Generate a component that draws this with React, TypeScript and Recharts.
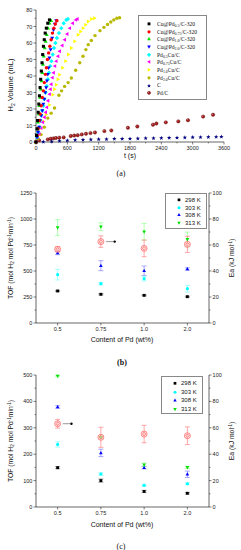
import React from 'react';
import { ScatterChart, Scatter, XAxis, YAxis, ErrorBar, Legend, ReferenceLine, ReferenceDot } from 'recharts';

// ---------- panel (a): H2 volume vs time ----------
const tCuPd05 = [0, 10, 20, 30, 42, 54, 66, 78, 90, 102, 115, 128, 142, 158, 176, 198, 225, 258];
const vCuPd05 = [0, 4, 8, 13, 18, 23, 28, 33, 38, 43, 48, 53, 58, 62, 66, 69, 72, 74];
const tCuPd075 = [0, 20, 40, 60, 80, 100, 120, 140, 160, 180, 200, 220, 242, 265, 290, 315, 342, 370, 400];
const vCuPd075 = [0, 4, 8, 13, 17, 22, 27, 31, 36, 41, 45, 50, 54, 58, 62, 66, 69, 71.5, 73.5];
const tCuPd10 = [0, 12, 24, 36, 50, 64, 78, 92, 106, 120, 134, 150, 168, 186, 206, 230, 258, 290];
const vCuPd10 = [0, 4, 8, 12, 17, 22, 27, 32, 37, 42, 47, 52, 57, 61, 65, 69, 72, 73.5];
const tCuPd20 = [0, 20, 40, 60, 80, 100, 120, 140, 160, 178, 194, 210, 226, 242, 258, 280, 310, 335, 360, 387];
const vCuPd20 = [0, 3, 6, 9, 13, 16, 19, 23, 26, 30, 33, 37, 41, 45, 51, 56, 63, 68, 71.5, 73.5];
const tPd05Cu = [0, 20, 40, 60, 80, 100, 120, 140, 160, 183, 206, 228, 250, 272, 295, 320, 345, 372, 400, 440, 484, 530, 580, 610];
const vPd05Cu = [0, 3, 6, 9, 13, 16, 19, 22, 26, 30, 34, 38, 42, 46, 49, 53, 57, 60, 63, 66, 69, 72, 74, 74.5];
const tPd075Cu = [0, 30, 60, 97, 130, 161, 185, 206, 230, 258, 275, 290, 312, 335, 360, 387, 420, 452, 500, 548, 595, 645, 700, 761, 790];
const vPd075Cu = [0, 3, 5, 8.5, 12, 15, 18, 21, 25, 29, 32, 35, 39, 42, 46, 49, 52, 55, 58.5, 62, 65.5, 69, 72, 74, 74.5];
const tPd10Cu = [0, 50, 97, 145, 194, 260, 323, 355, 387, 420, 452, 510, 568, 620, 677, 740, 806, 855, 903, 950, 1000, 1064, 1120];
const vPd10Cu = [0, 4, 8.5, 12.5, 16.6, 22.5, 28.7, 32, 34.7, 38, 40.8, 45, 49, 53, 57, 61, 65, 67, 69, 71, 73, 74.5, 75];
const tPd20Cu = [0, 40, 97, 160, 226, 290, 355, 438, 490, 548, 615, 677, 760, 838, 900, 955, 1000, 1060, 1130, 1225, 1300, 1370, 1432, 1490, 1548, 1600];
const vPd20Cu = [0, 2, 4.5, 9, 14.5, 17.5, 20.6, 28.3, 31, 33.7, 36, 38.8, 43.5, 48, 52, 56, 59, 61.5, 64.5, 67.5, 69.5, 71.2, 72.7, 74, 75, 75.3];
const tC = [140, 300, 450, 600, 750, 900, 1050, 1200, 1350, 1500, 1650, 1800, 1950, 2100, 2250, 2400, 2550, 2700, 2850, 3000, 3150, 3300, 3450, 3550];
const vC = [0.1, 0.3, 0.6, 0.9, 1.2, 1.3, 1.5, 1.6, 1.7, 1.9, 1.9, 2.0, 2.1, 2.3, 2.3, 2.4, 2.5, 2.6, 2.7, 2.8, 2.9, 3.0, 3.1, 3.2];
const tPdC = [60, 225, 280, 332, 380, 445, 530, 665, 730, 797, 876, 957, 1043, 1129, 1309, 1442, 1760, 1940, 2240, 2305, 2485, 2725, 2910, 3200, 3390];
const vPdC = [1.0, 1.6, 2.0, 2.2, 2.4, 2.6, 2.8, 3.6, 3.9, 4.1, 4.6, 5.0, 5.4, 5.8, 6.6, 7.0, 8.6, 9.4, 10.5, 11.2, 11.9, 12.5, 13.2, 15.4, 16.5];

const xTicksA = [0, 600, 1200, 1800, 2400, 3000, 3600];
const xMinorA = [300, 900, 1500, 2100, 2700, 3300];
const yTicksA = [0, 10, 20, 30, 40, 50, 60, 70, 80];
const yMinorA = [5, 15, 25, 35, 45, 55, 65, 75];

// ---------- panels (b) and (c): TOF and Ea vs Pd content ----------
const catsPd = ['0.5', '0.75', '1.0', '2.0'];

const tofB298 = [308, 276, 266, 253];
const errB298 = [6, 6, 5, 5];
const tofB303 = [465, 378, 426, 330];
const errB303 = [51, 12, 22, 32];
const tofB308 = [673, 551, 503, 519];
const errB308 = [16, 48, 45, 12];
const tofB313 = [917, 926, 878, 804];
const errB313 = [77, 38, 80, 70];
const eaB = [56.7, 62.6, 57.4, 60.5];
const errEaB = [2, 4.4, 6.4, 6.2];

const tofC298 = [149, 100, 59, 52];
const errC298 = [4, 6, 4, 3];
const tofC303 = [237, 125, 82, 88];
const errC303 = [10, 5, 4, 4];
const tofC308 = [379, 205, 149, 124];
const errC308 = [5, 14, 5, 12];
const tofC313 = [496, 264, 160, 150];
const errC313 = [3, 5, 6, 4];
const eaC = [63.1, 52.8, 55.3, 54];
const errEaC = [3.3, 7.6, 6.6, 6.7];

const yTicksB = [0, 250, 500, 750, 1000, 1250];
const yMinorB = [125, 375, 625, 875, 1125];
const yTicksC = [0, 100, 200, 300, 400, 500];
const yMinorC = [50, 150, 250, 350, 450];
const eaTicks = [0, 20, 40, 60, 80, 100];
const eaMinor = [10, 30, 50, 70, 90];
const xTicksPd = [0.5, 1.5, 2.5, 3.5];

const FONT = '"Liberation Sans", Arial, sans-serif';
const SERIF = '"Liberation Serif", "Times New Roman", serif';

type Kind = 'square' | 'circle' | 'up' | 'down' | 'left' | 'right' | 'diamond' | 'star' | 'ball' | 'ring';

const pts = (arr: number[][], x: number, y: number, s: number) =>
  arr.map(([a, b]) => `${x + a * s},${y + b * s}`).join(' ');

const starPts = (x: number, y: number, s: number) => {
  const out: string[] = [];
  for (let i = 0; i < 10; i++) {
    const r = i % 2 === 0 ? s * 1.35 : s * 0.55;
    const a = -Math.PI / 2 + (i * Math.PI) / 5;
    out.push(`${x + r * Math.cos(a)},${y + r * Math.sin(a)}`);
  }
  return out.join(' ');
};

const Marker = ({ kind, x, y, s, color }: { kind: Kind; x: number; y: number; s: number; color: string }) => {
  switch (kind) {
    case 'square':
      return <rect x={x - s * 0.9} y={y - s * 0.9} width={s * 1.8} height={s * 1.8} fill={color} />;
    case 'circle':
      return <circle cx={x} cy={y} r={s} fill={color} />;
    case 'ball':
      return (
        <g>
          <circle cx={x} cy={y} r={s} fill={color} stroke="#5a0808" strokeWidth={0.4} />
          <circle cx={x - s * 0.3} cy={y - s * 0.3} r={s * 0.35} fill="#d88080" />
        </g>
      );
    case 'up':
      return <polygon points={pts([[0, -1.25], [-1.15, 0.8], [1.15, 0.8]], x, y, s)} fill={color} />;
    case 'down':
      return <polygon points={pts([[0, 1.25], [-1.15, -0.8], [1.15, -0.8]], x, y, s)} fill={color} />;
    case 'left':
      return <polygon points={pts([[-1.25, 0], [0.8, -1.15], [0.8, 1.15]], x, y, s)} fill={color} />;
    case 'right':
      return <polygon points={pts([[1.25, 0], [-0.8, -1.15], [-0.8, 1.15]], x, y, s)} fill={color} />;
    case 'diamond':
      return <polygon points={pts([[0, -1.3], [1.3, 0], [0, 1.3], [-1.3, 0]], x, y, s)} fill={color} />;
    case 'star':
      return <polygon points={starPts(x, y, s)} fill={color} />;
    case 'ring':
      return (
        <g stroke={color} strokeWidth={0.7}>
          <circle cx={x} cy={y} r={s} fill="#ffd6d6" fillOpacity={0.6} />
          <path d={`M${x - s * 0.6},${y}L${x},${y - s * 0.6}L${x + s * 0.6},${y}L${x},${y + s * 0.6}Z`} fill="none" />
        </g>
      );
  }
  return null;
};

const shapeOf = (kind: Kind, color: string, s: number) => (p: any) =>
  <Marker kind={kind} x={p.cx} y={p.cy} s={s} color={color} />;

// ticks drawn by hand so minor marks can sit between labelled ones
const bottomTick = (majors: number[], fmt: (v: number) => string) => (p: any) => {
  const v = p.payload.value;
  const major = majors.includes(v);
  return (
    <g>
      <line x1={p.x} x2={p.x} y1={p.y} y2={p.y + (major ? 2.5 : 1.4)} stroke="#000" strokeWidth={0.5} />
      {major && (
        <text x={p.x} y={p.y + 8} textAnchor="middle" fontSize={5.5} fontFamily={FONT} fill="#222">
          {fmt(v)}
        </text>
      )}
    </g>
  );
};

const sideTick = (majors: number[], side: 'left' | 'right') => (p: any) => {
  const v = p.payload.value;
  const major = majors.includes(v);
  const dir = side === 'left' ? -1 : 1;
  return (
    <g>
      <line x1={p.x} x2={p.x + dir * (major ? 2.5 : 1.4)} y1={p.y} y2={p.y} stroke="#000" strokeWidth={0.5} />
      {major && (
        <text x={p.x + dir * 3.6} y={p.y + 2} textAnchor={side === 'left' ? 'end' : 'start'} fontSize={5.5} fontFamily={FONT} fill="#222">
          {v}
        </text>
      )}
    </g>
  );
};

const AXIS = { stroke: '#000', strokeWidth: 0.6 };

const seriesA: { key: string; label: string[]; t: number[]; v: number[]; color: string; kind: Kind }[] = [
  { key: 'a1', label: ['Cu@Pd', '0.5', '/C-320'], t: tCuPd05, v: vCuPd05, color: '#000000', kind: 'square' },
  { key: 'a2', label: ['Cu@Pd', '0.75', '/C-320'], t: tCuPd075, v: vCuPd075, color: '#ff0000', kind: 'circle' },
  { key: 'a3', label: ['Cu@Pd', '1.0', '/C-320'], t: tCuPd10, v: vCuPd10, color: '#00e000', kind: 'up' },
  { key: 'a4', label: ['Cu@Pd', '2.0', '/C-320'], t: tCuPd20, v: vCuPd20, color: '#0000ff', kind: 'down' },
  { key: 'a5', label: ['Pd', '0.5', 'Cu/C'], t: tPd05Cu, v: vPd05Cu, color: '#00ffff', kind: 'diamond' },
  { key: 'a6', label: ['Pd', '0.75', 'Cu/C'], t: tPd075Cu, v: vPd075Cu, color: '#ff00ff', kind: 'left' },
  { key: 'a7', label: ['Pd', '1.0', 'Cu/C'], t: tPd10Cu, v: vPd10Cu, color: '#ffff00', kind: 'right' },
  { key: 'a8', label: ['Pd', '2.0', 'Cu/C'], t: tPd20Cu, v: vPd20Cu, color: '#b8b800', kind: 'circle' },
  { key: 'a9', label: ['C', '', ''], t: tC, v: vC, color: '#000080', kind: 'star' },
  { key: 'a10', label: ['Pd/C', '', ''], t: tPdC, v: vPdC, color: '#a01818', kind: 'ball' },
];

const LegendA = () => (
  <div style={{ border: '0.6px solid #888', background: '#fff', width: 69, height: 85, boxSizing: 'border-box', paddingTop: 4, fontFamily: SERIF, fontSize: 5.6, color: '#111' }}>
    {seriesA.map((s) => (
      <div key={s.key} style={{ display: 'flex', alignItems: 'center', height: 7.7 }}>
        <svg width={18} height={7.7} style={{ flex: 'none' }}>
          <Marker kind={s.kind} x={10} y={3.85} s={1.6} color={s.color} />
        </svg>
        <span style={{ whiteSpace: 'nowrap' }}>
          {s.label[0]}
          {s.label[1] && <sub style={{ fontSize: '0.7em', verticalAlign: '-0.3em', lineHeight: 0 }}>{s.label[1]}</sub>}
          {s.label[2]}
        </span>
      </div>
    ))}
  </div>
);

const tempSeries: { name: string; color: string; errColor: string; kind: Kind }[] = [
  { name: '298 K', color: '#000000', errColor: '#606060', kind: 'square' },
  { name: '303 K', color: '#00ffff', errColor: '#70ffff', kind: 'circle' },
  { name: '308 K', color: '#0000ff', errColor: '#7070ff', kind: 'up' },
  { name: '313 K', color: '#00e000', errColor: '#80ff80', kind: 'down' },
];

const LegendT = ({ w, h, row }: { w: number; h: number; row: number }) => (
  <div style={{ border: '0.6px solid #888', background: '#fff', width: w, height: h, boxSizing: 'border-box', paddingTop: 2, fontFamily: FONT, fontSize: 6, color: '#111' }}>
    {tempSeries.map((s) => (
      <div key={s.name} style={{ display: 'flex', alignItems: 'center', height: row }}>
        <svg width={19} height={row} style={{ flex: 'none' }}>
          <Marker kind={s.kind} x={13} y={row / 2} s={1.5} color={s.color} />
        </svg>
        <span style={{ whiteSpace: 'nowrap' }}>{s.name}</span>
      </div>
    ))}
  </div>
);

const toPts = (vals: number[], errs: number[]) => vals.map((y, i) => ({ x: i + 0.5, y, e: errs[i] }));

const PanelTOF = ({ top, height, yMax, yTicks, yMinor, tofs, errs, ea, eaErr, arrowAt, legendBox }: any) => {
  const arrowY = ea[arrowAt];
  return (
    <div style={{ position: 'absolute', left: 0, top }}>
      <ScatterChart width={241} height={height} margin={{ top: 13, right: 0, bottom: 0, left: 0 }}>
        <XAxis xAxisId="top" orientation="top" type="number" domain={[0, 4]} height={0} tick={false} tickLine={false} axisLine={AXIS} />
        <XAxis
          type="number"
          dataKey="x"
          domain={[0, 4]}
          ticks={xTicksPd}
          interval={0}
          height={17}
          tickSize={0}
          tickMargin={0}
          tickLine={false}
          axisLine={AXIS}
          tick={bottomTick(xTicksPd, (v) => catsPd[Math.round(v - 0.5)])}
        />
        <YAxis
          yAxisId="left"
          type="number"
          dataKey="y"
          domain={[0, yMax]}
          ticks={[...yTicks, ...yMinor]}
          interval={0}
          width={36}
          tickSize={0}
          tickMargin={0}
          tickLine={false}
          axisLine={AXIS}
          tick={sideTick(yTicks, 'left')}
        />
        <YAxis
          yAxisId="right"
          orientation="right"
          type="number"
          dataKey="y"
          domain={[0, 100]}
          ticks={[...eaTicks, ...eaMinor]}
          interval={0}
          width={32}
          tickSize={0}
          tickMargin={0}
          tickLine={false}
          axisLine={AXIS}
          tick={sideTick(eaTicks, 'right')}
        />
        <Legend
          layout="vertical"
          align="center"
          verticalAlign="middle"
          wrapperStyle={{ left: legendBox.left, top: legendBox.top, width: legendBox.w, height: legendBox.h }}
          content={() => <LegendT w={legendBox.w} h={legendBox.h} row={legendBox.row} />}
        />
        {tempSeries.map((s, k) => (
          <Scatter key={s.name} name={s.name} yAxisId="left" data={toPts(tofs[k], errs[k])} shape={shapeOf(s.kind, s.color, 1.6)} isAnimationActive={false}>
            <ErrorBar dataKey="e" direction="y" width={2.5} stroke={s.errColor} strokeWidth={0.6} />
          </Scatter>
        ))}
        <Scatter name="Ea" yAxisId="right" data={toPts(ea, eaErr)} shape={shapeOf('ring', '#ff6060', 3)} isAnimationActive={false}>
          <ErrorBar dataKey="e" direction="y" width={2.5} stroke="#ff7070" strokeWidth={0.6} />
        </Scatter>
        <ReferenceLine
          yAxisId="right"
          segment={[{ x: arrowAt + 0.62, y: arrowY }, { x: arrowAt + 0.8, y: arrowY }]}
          stroke="#555"
          strokeWidth={0.6}
        />
        <ReferenceDot yAxisId="right" x={arrowAt + 0.82} y={arrowY} r={1.2} fill="#000" stroke="none" />
      </ScatterChart>
    </div>
  );
};

export default function App() {
  return (
    <div style={{ position: 'absolute', left: 0, top: 0, width: 241, height: 550, background: '#fff', overflow: 'hidden' }}>
      <div style={{ position: 'absolute', left: 0, top: 0 }}>
        <ScatterChart width={241} height={165} margin={{ top: 10, right: 17, bottom: 0, left: 0 }}>
          <XAxis xAxisId="top" orientation="top" type="number" domain={[0, 3600]} height={0} tick={false} tickLine={false} axisLine={AXIS} />
          <YAxis yAxisId="frame" orientation="right" type="number" domain={[0, 80]} width={0} tick={false} tickLine={false} axisLine={AXIS} />
          <XAxis
            type="number"
            dataKey="x"
            domain={[0, 3600]}
            ticks={[...xTicksA, ...xMinorA]}
            interval={0}
            height={23}
            tickSize={0}
            tickMargin={0}
            tickLine={false}
            axisLine={AXIS}
            tick={bottomTick(xTicksA, (v) => String(v))}
          />
          <YAxis
            type="number"
            dataKey="y"
            domain={[0, 80]}
            ticks={[...yTicksA, ...yMinorA]}
            interval={0}
            width={36}
            tickSize={0}
            tickMargin={0}
            tickLine={false}
            axisLine={AXIS}
            tick={sideTick(yTicksA, 'left')}
          />
          <Legend
            layout="vertical"
            align="center"
            verticalAlign="middle"
            wrapperStyle={{ left: 138, top: 15, width: 69, height: 85 }}
            content={() => <LegendA />}
          />
          {[...seriesA].reverse().map((s) => (
            <Scatter
              key={s.key}
              name={s.label.join('')}
              data={s.t.map((t, i) => ({ x: t, y: s.v[i] }))}
              shape={shapeOf(s.kind, s.color, 1.7)}
              isAnimationActive={false}
            />
          ))}
        </ScatterChart>
      </div>

      <PanelTOF
        top={180}
        height={160}
        yMax={1250}
        yTicks={yTicksB}
        yMinor={yMinorB}
        tofs={[tofB298, tofB303, tofB308, tofB313]}
        errs={[errB298, errB303, errB308, errB313]}
        ea={eaB}
        eaErr={errEaB}
        arrowAt={1}
        legendBox={{ left: 165, top: 13, w: 42, h: 36, row: 7.7 }}
      />
      <PanelTOF
        top={362}
        height={162}
        yMax={500}
        yTicks={yTicksC}
        yMinor={yMinorC}
        tofs={[tofC298, tofC303, tofC308, tofC313]}
        errs={[errC298, errC303, errC308, errC313]}
        ea={eaC}
        eaErr={errEaC}
        arrowAt={0}
        legendBox={{ left: 161, top: 14, w: 42, h: 38, row: 8.6 }}
      />

      <svg width={241} height={550} style={{ position: 'absolute', left: 0, top: 0, pointerEvents: 'none' }} fontFamily={FONT} fill="#111">
        {/* panel (a) titles */}
        <text transform="translate(13,85) rotate(-90)" textAnchor="middle" fontSize={7.5}>
          H<tspan dy={1.6} fontSize={5}>2</tspan><tspan dy={-1.6}> Volume (mL)</tspan>
        </text>
        <text x={130} y={158} textAnchor="middle" fontSize={7}>t (s)</text>
        <text x={121} y={176} textAnchor="middle" fontSize={8} fontFamily={SERIF}>(a)</text>

        {/* panel (b) titles */}
        <text transform="translate(13,258) rotate(-90)" textAnchor="middle" fontSize={6.8}>
          TOF (mol H<tspan dy={1.4} fontSize={4.5}>2</tspan><tspan dy={-1.4}> mol Pd</tspan><tspan dy={-2} fontSize={4.5}>-1</tspan><tspan dy={2}>min</tspan><tspan dy={-2} fontSize={4.5}>-1</tspan><tspan dy={2}>)</tspan>
        </text>
        <text transform="translate(234,258) rotate(-90)" textAnchor="middle" fontSize={6.8}>
          Ea (kJ mol<tspan dy={-2} fontSize={4.5}>-1</tspan><tspan dy={2}>)</tspan>
        </text>
        <text x={122} y={342} textAnchor="middle" fontSize={7}>Content of Pd (wt%)</text>
        <text x={122} y={365} textAnchor="middle" fontSize={8} fontFamily={SERIF} fontWeight="bold">(b)</text>

        {/* panel (c) titles */}
        <text transform="translate(13,441) rotate(-90)" textAnchor="middle" fontSize={6.8}>
          TOF (mol H<tspan dy={1.4} fontSize={4.5}>2</tspan><tspan dy={-1.4}> mol Pd</tspan><tspan dy={-2} fontSize={4.5}>-1</tspan><tspan dy={2}>min</tspan><tspan dy={-2} fontSize={4.5}>-1</tspan><tspan dy={2}>)</tspan>
        </text>
        <text transform="translate(234,441) rotate(-90)" textAnchor="middle" fontSize={6.8}>
          Ea (kJ mol<tspan dy={-2} fontSize={4.5}>-1</tspan><tspan dy={2}>)</tspan>
        </text>
        <text x={122} y={527} textAnchor="middle" fontSize={7}>Content of Pd (wt%)</text>
        <text x={121} y={549} textAnchor="middle" fontSize={8} fontFamily={SERIF}>(c)</text>
      </svg>
    </div>
  );
}
